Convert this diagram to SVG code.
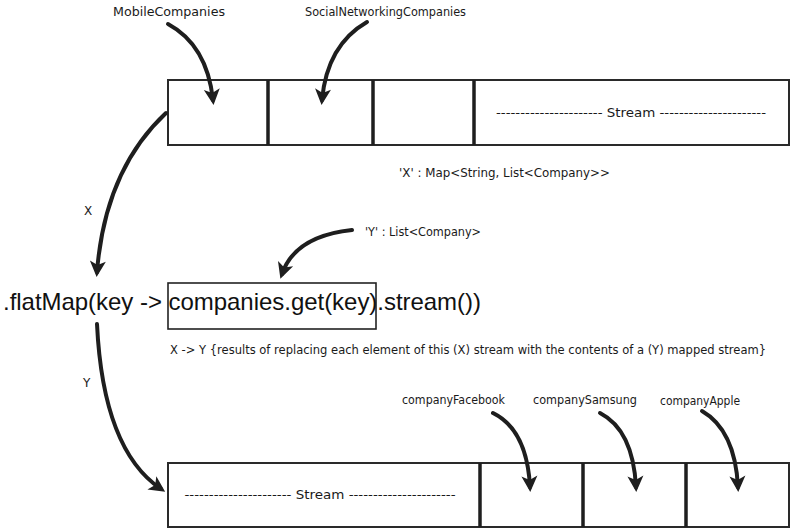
<svg xmlns="http://www.w3.org/2000/svg" width="792" height="530" viewBox="0 0 792 530">
<style>
.box{fill:#fff;stroke:#2a2a2a;stroke-width:2}
.div{stroke:#1e1e1e;stroke-width:3.5}
.lbl{font-family:"DejaVu Sans","Liberation Sans",sans-serif;font-size:12px;fill:#1a1a1a}
.big{font-family:"Liberation Sans",Arial,sans-serif;font-size:24px;fill:#111}
.arr{fill:none;stroke:#1e1e1e;stroke-width:4;stroke-linecap:round;marker-end:url(#ah)}
</style>
<defs>
<marker id="ah" markerUnits="userSpaceOnUse" markerWidth="18" markerHeight="18" viewBox="0 0 18 18" refX="12" refY="9" orient="auto">
<path d="M1,1 L17,9 L1,17 L5,9 z" fill="#1e1e1e"/>
</marker>
</defs>
<rect width="792" height="530" fill="#fff"/>
<g id="topStream">
<rect class="box" x="168" y="80" width="621" height="65"/>
<line class="div" x1="268" y1="80" x2="268" y2="145"/>
<line class="div" x1="373" y1="80" x2="373" y2="145"/>
<line class="div" x1="474" y1="80" x2="474" y2="145"/>
<text class="lbl" x="631" y="117" text-anchor="middle" textLength="270" lengthAdjust="spacingAndGlyphs">---------------------- Stream ----------------------</text>
</g>
<g id="bottomStream">
<rect class="box" x="168" y="463" width="621" height="64"/>
<line class="div" x1="480" y1="463" x2="480" y2="527"/>
<line class="div" x1="583" y1="463" x2="583" y2="527"/>
<line class="div" x1="686" y1="463" x2="686" y2="527"/>
<text class="lbl" x="320" y="499" text-anchor="middle" textLength="271" lengthAdjust="spacingAndGlyphs">---------------------- Stream ----------------------</text>
</g>
<g id="labels">
<text class="lbl" x="113" y="16" textLength="112" lengthAdjust="spacingAndGlyphs">MobileCompanies</text>
<text class="lbl" x="305" y="16" textLength="161" lengthAdjust="spacingAndGlyphs">SocialNetworkingCompanies</text>
<text class="lbl" x="399" y="177" textLength="211" lengthAdjust="spacingAndGlyphs">'X' : Map&lt;String, List&lt;Company&gt;&gt;</text>
<text class="lbl" x="365" y="236" textLength="116" lengthAdjust="spacingAndGlyphs">'Y' : List&lt;Company&gt;</text>
<text class="lbl" x="84" y="215">X</text>
<text class="lbl" x="83" y="387">Y</text>
<text class="lbl" x="170" y="354" textLength="596" lengthAdjust="spacingAndGlyphs">X -&gt; Y {results of replacing each element of this (X) stream with the contents of a (Y) mapped stream}</text>
<text class="lbl" x="402" y="404" textLength="103" lengthAdjust="spacingAndGlyphs">companyFacebook</text>
<text class="lbl" x="533" y="404" textLength="104" lengthAdjust="spacingAndGlyphs">companySamsung</text>
<text class="lbl" x="660" y="405" textLength="80" lengthAdjust="spacingAndGlyphs">companyApple</text>
</g>
<g id="expression">
<rect x="168" y="283" width="208" height="46" fill="none" stroke="#222" stroke-width="1.6"/>
<text class="big" x="3" y="310" textLength="478">.flatMap(key -&gt; companies.get(key).stream())</text>
</g>
<g id="connectors">
<path class="arr" d="M168,24 Q207,45 213,100"/>
<path class="arr" d="M367,22 Q327,45 322,100"/>
<path class="arr" d="M166,113 Q105,170 97,272"/>
<path class="arr" d="M97,324 Q103,450 161,489"/>
<path class="arr" d="M352,230 Q295,236 282,274"/>
<path class="arr" d="M493,413 Q527,430 530,487"/>
<path class="arr" d="M600,413 Q633,430 636,487"/>
<path class="arr" d="M702,411 Q735,430 738,487"/>
</g>
</svg>
